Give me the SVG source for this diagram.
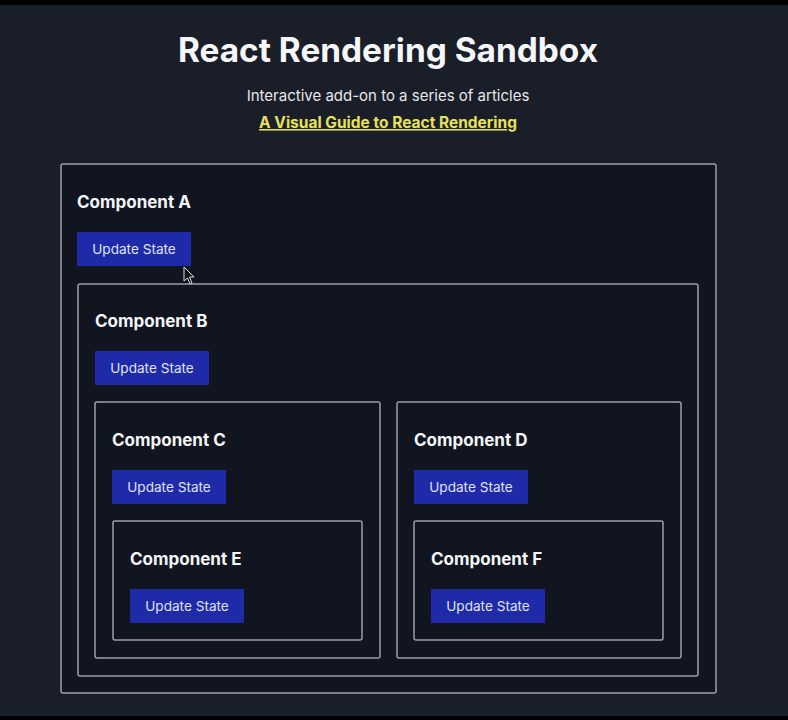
<svg xmlns="http://www.w3.org/2000/svg" width="788" height="720" viewBox="0 0 788 720">
<style>
.box{fill:#111520;stroke:#9a9ea6;stroke-width:1.5}
.btn{fill:#1f2aa8}
.bt{font-family:Inter,"Liberation Sans",sans-serif;font-size:13.6px;fill:#dfe3f5;text-anchor:middle}
.h{font-family:Inter,"Liberation Sans",sans-serif;font-size:17px;font-weight:700;fill:#f4f5f7}
</style>
<rect width="788" height="720" fill="#1a1e28"/>
<rect width="788" height="5" fill="#000"/>
<rect y="716" width="788" height="4" fill="#000"/>
<text x="388" y="62" text-anchor="middle" font-family="Inter,'Liberation Sans',sans-serif" font-size="33.4" font-weight="700" fill="#f5f6f8">React Rendering Sandbox</text>
<text x="388" y="101" text-anchor="middle" font-family="Inter,'Liberation Sans',sans-serif" font-size="15" fill="#e6e7ea">Interactive add-on to a series of articles</text>
<text x="388" y="128" text-anchor="middle" font-family="Inter,'Liberation Sans',sans-serif" font-size="15.5" font-weight="700" fill="#e8e25a" text-decoration="underline">A Visual Guide to React Rendering</text>
<g id="component-a"><rect class="box" x="61" y="164" width="655" height="529" rx="2"/><text class="h" x="77" y="208">Component A</text><rect class="btn" x="77" y="232" width="114" height="34"/><text class="bt" x="134" y="254">Update State</text></g>
<g id="component-b"><rect class="box" x="78" y="284" width="620" height="392" rx="2"/><text class="h" x="95" y="327">Component B</text><rect class="btn" x="95" y="351" width="114" height="34"/><text class="bt" x="152" y="373">Update State</text></g>
<g id="component-c"><rect class="box" x="95" y="402" width="285" height="256" rx="2"/><text class="h" x="112" y="446">Component C</text><rect class="btn" x="112" y="470" width="114" height="34"/><text class="bt" x="169" y="492">Update State</text></g>
<g id="component-d"><rect class="box" x="397" y="402" width="284" height="256" rx="2"/><text class="h" x="414" y="446">Component D</text><rect class="btn" x="414" y="470" width="114" height="34"/><text class="bt" x="471" y="492">Update State</text></g>
<g id="component-e"><rect class="box" x="113" y="521" width="249" height="119" rx="2"/><text class="h" x="130" y="565">Component E</text><rect class="btn" x="130" y="589" width="114" height="34"/><text class="bt" x="187" y="611">Update State</text></g>
<g id="component-f"><rect class="box" x="414" y="521" width="249" height="119" rx="2"/><text class="h" x="431" y="565">Component F</text><rect class="btn" x="431" y="589" width="114" height="34"/><text class="bt" x="488" y="611">Update State</text></g>
<g id="connectors"/>
<path d="M184 267 L184 281 L187.5 278 L190 284 L192 283 L189.5 277 L194 277 Z" fill="#111" stroke="#ddd" stroke-width="1"/>
</svg>
